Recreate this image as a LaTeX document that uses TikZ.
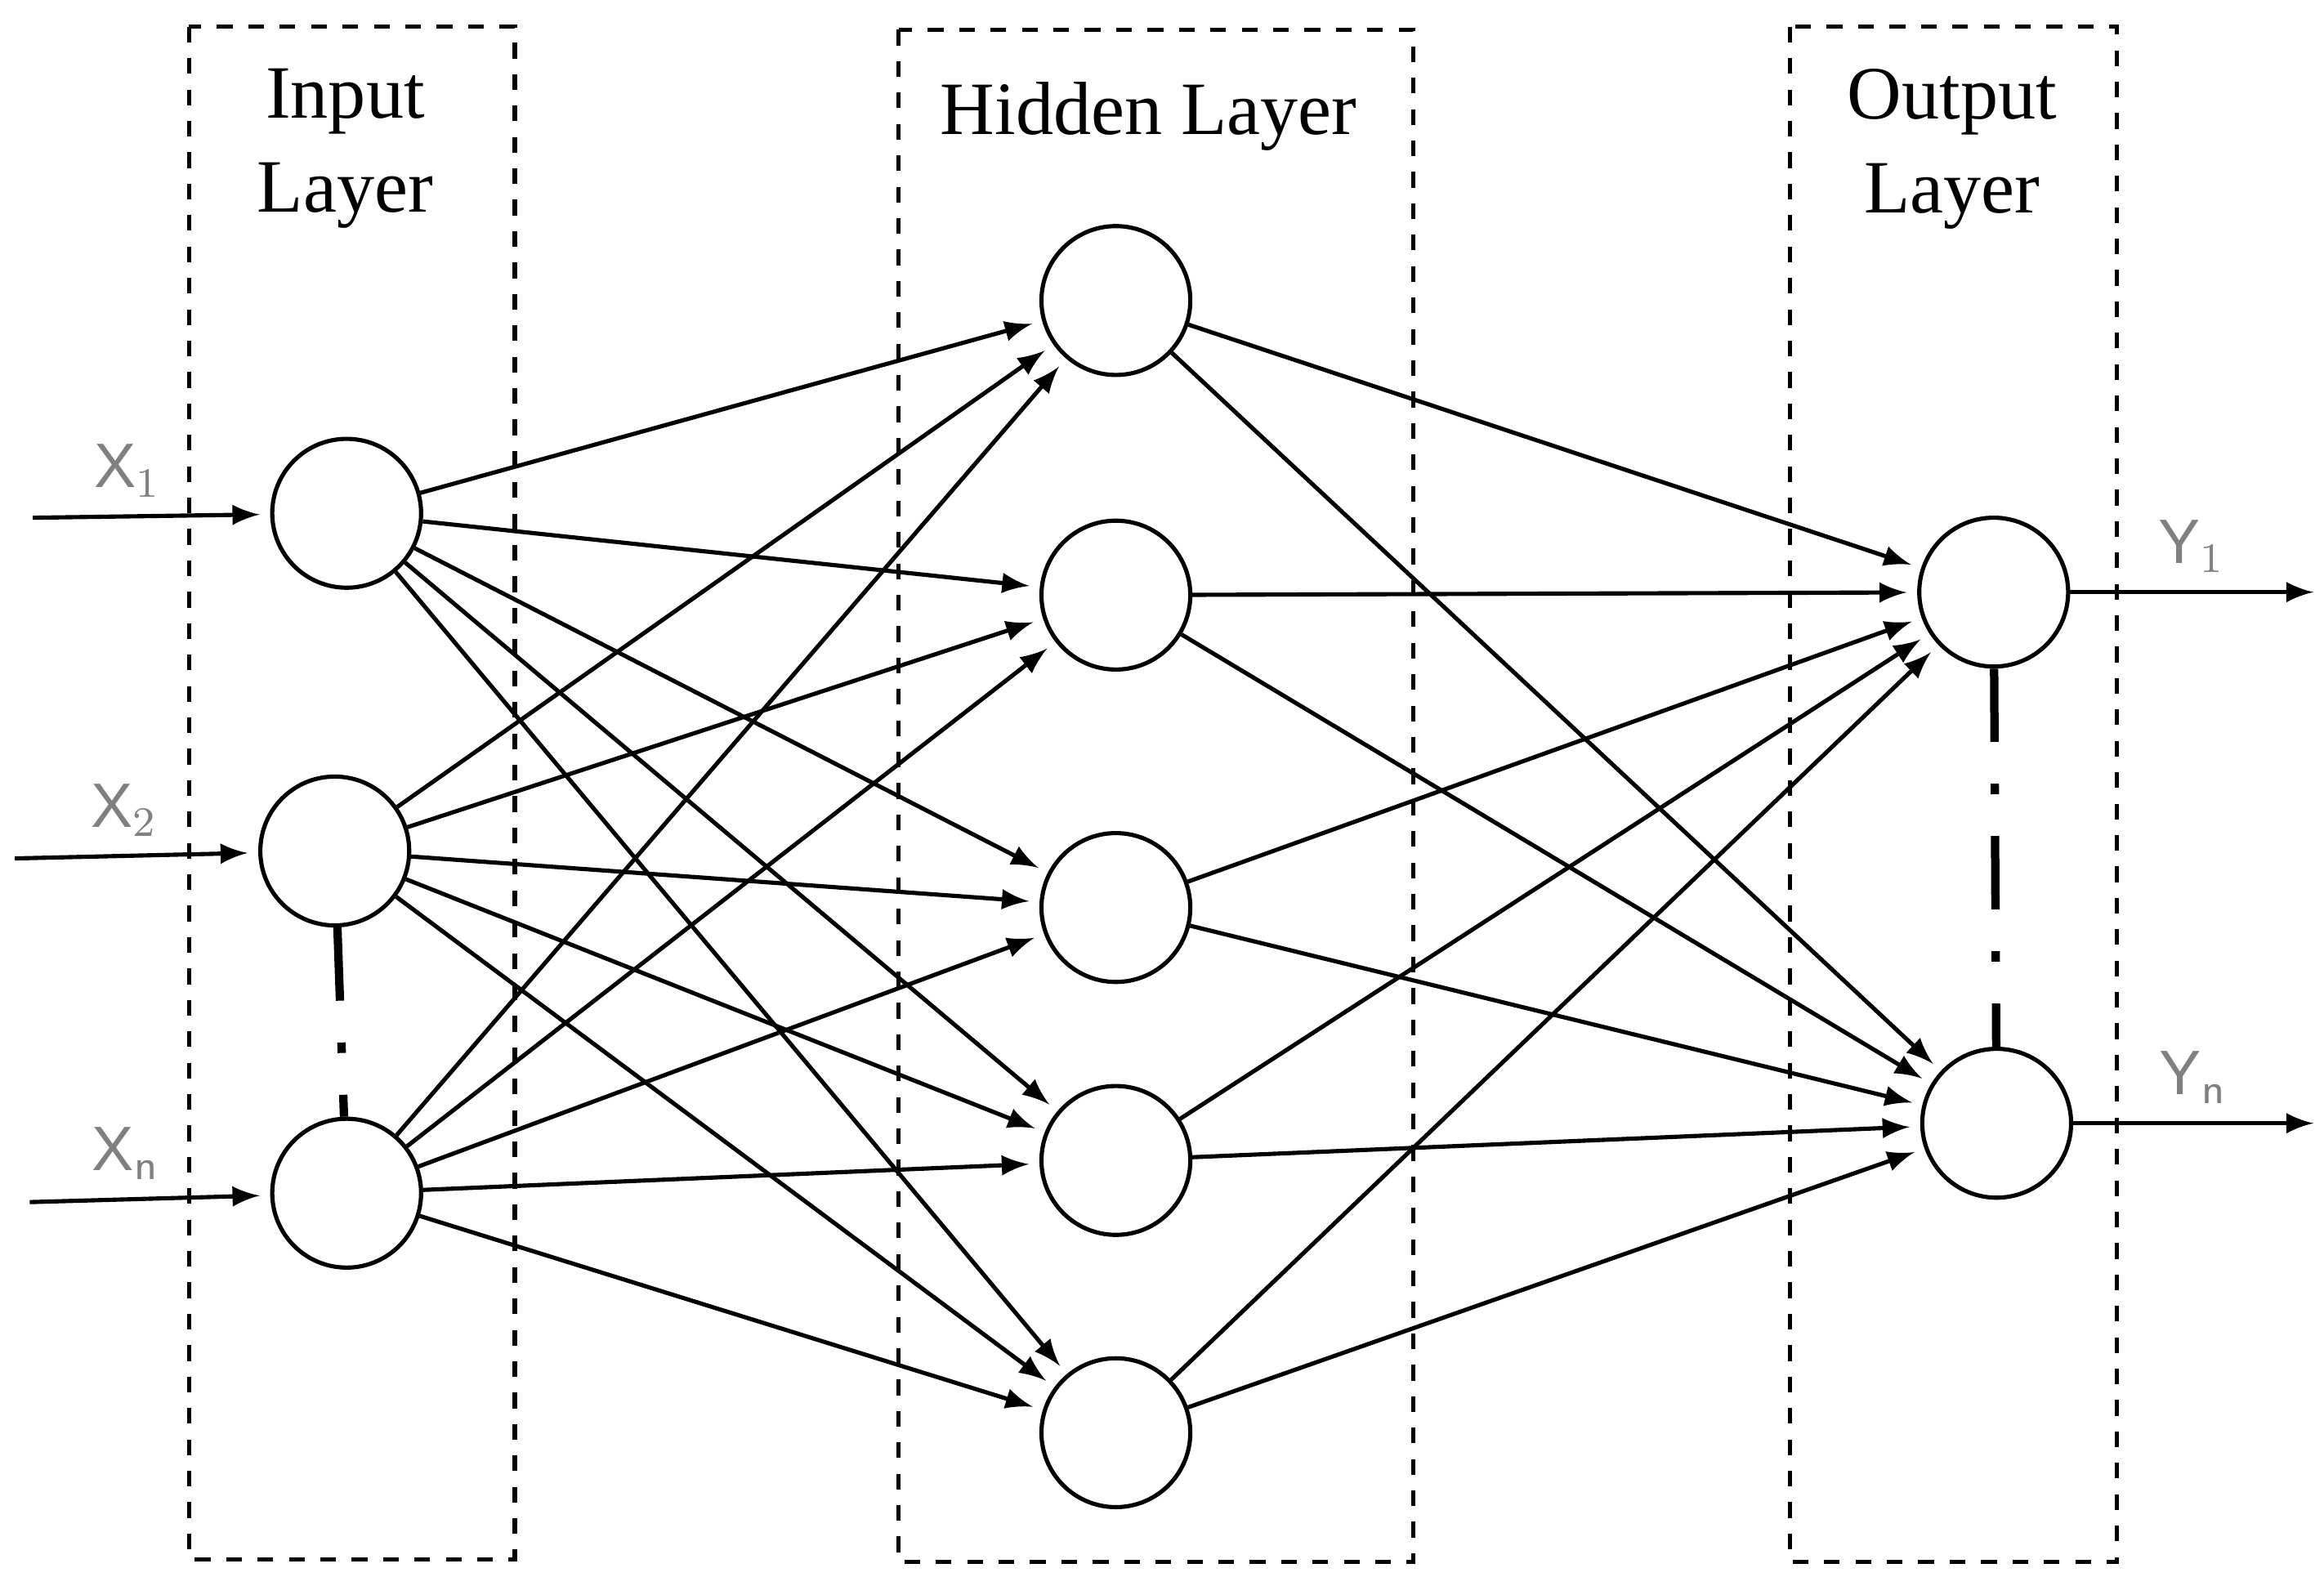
\documentclass[tikz,border=0pt]{standalone}
\usepackage{fontspec}
\setmainfont{Liberation Serif}
\newfontfamily\labelfont{Liberation Sans}
\usetikzlibrary{arrows}
\tikzstyle{neuron} = [draw, circle, minimum size=1.0cm, inner sep=0pt, thick]
\tikzstyle{layer} = [draw, dashed, thick]
\tikzstyle{edge} = [->, thick, shorten >=2pt]
\tikzstyle{signal} = [font=\labelfont\large, text=gray]
\tikzstyle{title} = [font=\Large, align=center]

\begin{document}
\begin{tikzpicture}[x=0.01cm, y=-0.01cm, >=latex]
		\useasboundingbox (0,0) rectangle (1562,1066);
		% layer boxes
		\draw [layer] (127,18) rectangle (346,1048);
		\draw [layer] (604,20) rectangle (950,1050);
		\draw [layer] (1203,18) rectangle (1423,1050);
		\node [title] (tin) at (232,100) {Input\\Layer};
		\node [title] (thid) at (772,78) {Hidden Layer};
		\node [title] (tout) at (1312,100) {Output\\Layer};

		% neurons
		\node [neuron] (in1) at (233,345) {};
		\node [neuron] (in2) at (225,572) {};
		\node [neuron] (in3) at (233,802) {};
		\foreach \i/\y in {1/202,2/400,3/610,4/780,5/963}
			\node [neuron] (hid\i) at (750,\y) {};
		\node [neuron] (out1) at (1340,398) {};
		\node [neuron] (out2) at (1342,755) {};

		% inputs and outputs
		\coordinate (x1) at (22,348);
		\coordinate (x2) at (10,577);
		\coordinate (x3) at (20,808);
		\coordinate (y1) at (1555,398);
		\coordinate (y2) at (1555,755);
		\draw [edge] (x1) -- node [signal, above, pos=0.4] {X$_1$} (in1);
		\draw [edge] (x2) -- node [signal, above, pos=0.45] {X$_2$} (in2);
		\draw [edge] (x3) -- node [signal, above, pos=0.4] {X$_\mathsf{n}$} (in3);
		\draw [->, thick] (out1) -- node [signal, above, pos=0.5] {Y$_1$} (y1);
		\draw [->, thick] (out2) -- node [signal, above, pos=0.5] {Y$_\mathsf{n}$} (y2);

		% dots between neurons
		\draw [ultra thick, dash pattern=on 14pt off 8pt on 2pt off 8pt] (in2) -- (in3);
		\draw [ultra thick, dash pattern=on 14pt off 8pt on 2pt off 8pt] (out1) -- (out2);

		% weights
		\foreach \a in {1,2,3}
			\foreach \b in {1,...,5}
				\draw [edge] (in\a) -- (hid\b);
		\foreach \b in {1,...,5}
			\foreach \c in {1,2}
				\draw [edge] (hid\b) -- (out\c);
	\end{tikzpicture}
\end{document}
